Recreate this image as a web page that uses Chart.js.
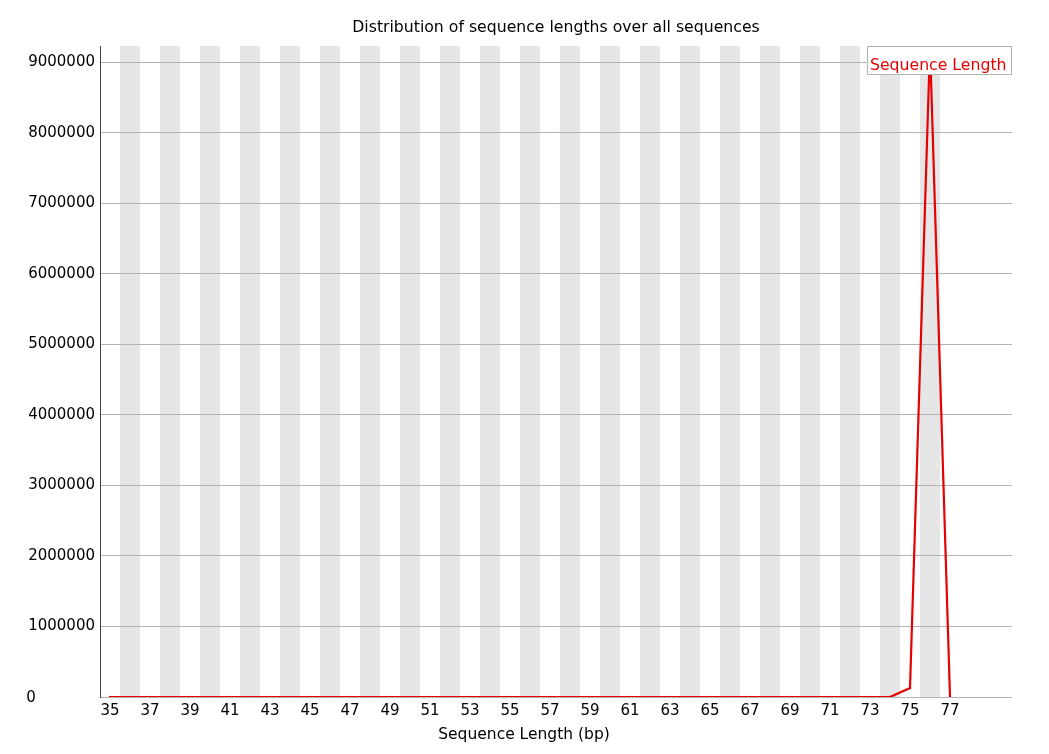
<!DOCTYPE html>
<html>
<head>
<meta charset="utf-8">
<title>Distribution of sequence lengths over all sequences</title>
<script src="https://cdn.jsdelivr.net/npm/chart.js@4.4.1/dist/chart.umd.min.js"></script>
<style>
  html, body { margin: 0; padding: 0; background: #fff; }
  #wrap { width: 1049px; height: 754px; }
</style>
</head>
<body>
<div id="wrap"><canvas id="chart" width="1049" height="754"></canvas></div>
<script>
// sequence lengths (bp) and read counts
const lengths = [35, 36, 37, 38, 39, 40, 41, 42, 43, 44, 45, 46, 47, 48, 49, 50, 51, 52, 53, 54, 55,
  56, 57, 58, 59, 60, 61, 62, 63, 64, 65, 66, 67, 68, 69, 70, 71, 72, 73, 74, 75, 76, 77];
const counts = [0, 0, 0, 0, 0, 0, 0, 0, 0, 0, 0, 0, 0, 0, 0, 0, 0, 0, 0, 0, 0,
  0, 0, 0, 0, 0, 0, 0, 0, 0, 0, 0, 0, 0, 0, 0, 0, 0, 0, 0, 127000, 9230000, 0];
const xTickLabels = [35, 37, 39, 41, 43, 45, 47, 49, 51, 53, 55, 57, 59, 61, 63, 65, 67, 69, 71, 73, 75, 77];
const yTickValues = [0, 1000000, 2000000, 3000000, 4000000, 5000000, 6000000, 7000000, 8000000, 9000000];
const shadedLengths = [36, 38, 40, 42, 44, 46, 48, 50, 52, 54, 56, 58, 60, 62, 64, 66, 68, 70, 72, 74, 76];

const FONT = "DejaVu Sans";

// grey stripes behind every other length, title, y labels, x title and legend
const fastqcLook = {
  id: "fastqcLook",
  beforeDraw(chart) {
    const { ctx, chartArea, scales } = chart;
    ctx.save();
    ctx.fillStyle = "#e6e6e6";
    shadedLengths.forEach((v) => {
      const x1 = scales.x.getPixelForValue(v - 0.5);
      const x2 = scales.x.getPixelForValue(v + 0.5);
      ctx.fillRect(x1, chartArea.top, x2 - x1, chartArea.bottom - chartArea.top);
    });
    ctx.restore();
  },
  afterDraw(chart) {
    const { ctx, chartArea, scales } = chart;
    ctx.save();
    ctx.fillStyle = "#000";
    ctx.textBaseline = "middle";

    // title
    ctx.font = "15.7px " + FONT;
    ctx.textAlign = "center";
    ctx.fillText("Distribution of sequence lengths over all sequences", (chartArea.left + chartArea.right) / 2, 28);

    // y labels (FastQC puts the 0 far left)
    ctx.font = "15px " + FONT;
    yTickValues.forEach((v) => {
      const y = scales.y.getPixelForValue(v);
      if (v === 0) {
        ctx.textAlign = "center";
        ctx.fillText("0", 31, y + 1);
      } else {
        ctx.textAlign = "right";
        ctx.fillText(String(v), chartArea.left - 5, y);
      }
    });

    // x axis title
    ctx.font = "15.5px " + FONT;
    ctx.textAlign = "center";
    ctx.fillText("Sequence Length (bp)", 524, 735);

    // legend
    const lx = 867, ly = 46, lw = 145, lh = 29;
    ctx.fillStyle = "#fff";
    ctx.fillRect(lx, ly, lw, lh);
    ctx.strokeStyle = "#b4b4b4";
    ctx.lineWidth = 1;
    ctx.strokeRect(lx + 0.5, ly + 0.5, lw - 1, lh - 1);
    ctx.fillStyle = "#e60000";
    ctx.textAlign = "left";
    ctx.font = "15.7px " + FONT;
    ctx.fillText("Sequence Length", lx + 3, ly + 20);
    ctx.restore();
  },
};

new Chart(document.getElementById("chart"), {
  type: "line",
  data: {
    datasets: [
      {
        label: "Sequence Length",
        data: lengths.map((l, i) => ({ x: l, y: counts[i] })),
        borderColor: "#e60000",
        backgroundColor: "#d00000",
        borderWidth: 2.2,
        pointRadius: 1.2,
        pointBorderWidth: 0,
        tension: 0,
      },
    ],
  },
  options: {
    responsive: false,
    animation: false,
    layout: { padding: { top: 46, right: 37, left: 0, bottom: 0 } },
    plugins: {
      legend: { display: false },
      title: { display: false },
      tooltip: { enabled: false },
    },
    scales: {
      x: {
        type: "linear",
        min: 34.5,
        max: 80.1,
        afterBuildTicks: (scale) => {
          scale.ticks = xTickLabels.map((v) => ({ value: v }));
        },
        afterFit: (scale) => {
          scale.height = 57;
        },
        grid: { display: false },
        border: { display: false },
        ticks: {
          font: { family: FONT, size: 15 },
          color: "#000",
          maxRotation: 0,
          autoSkip: false,
          padding: -3,
        },
      },
      y: {
        min: 0,
        max: 9230000,
        afterBuildTicks: (scale) => {
          scale.ticks = yTickValues.map((v) => ({ value: v }));
        },
        afterFit: (scale) => {
          scale.width = 100;
        },
        grid: { color: "#b4b4b4", drawTicks: false },
        border: { display: true, color: "#444", width: 1 },
        ticks: { display: false },
      },
    },
  },
  plugins: [fastqcLook],
});
</script>
</body>
</html>
